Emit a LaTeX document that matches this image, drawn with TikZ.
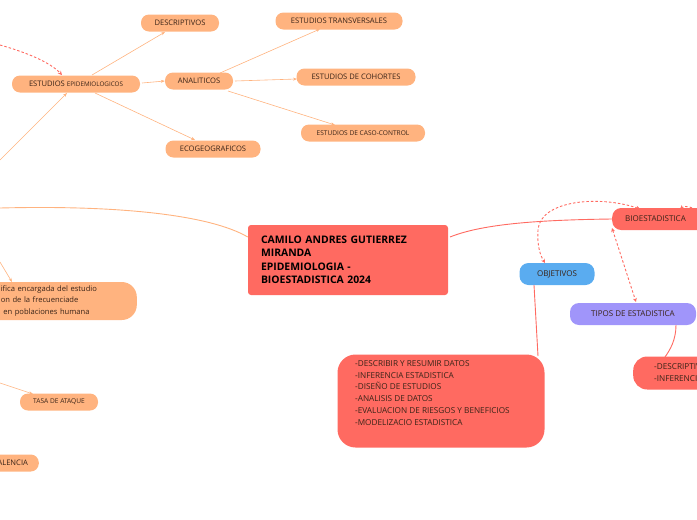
\documentclass[tikz,border=0pt]{standalone}
\usepackage{fontspec}
\setmainfont{Open Sans}
\usetikzlibrary{arrows.meta}
\definecolor{org}{HTML}{FFB37F}
\definecolor{rd}{HTML}{FF6A61}
\definecolor{bl}{HTML}{5AACF0}
\definecolor{pu}{HTML}{A095FA}
\definecolor{tx}{HTML}{3A2418}
\tikzset{
 onode/.style={fill=org,rounded corners=8pt,text=tx,font=\fontsize{7.6}{9}\selectfont,minimum height=17pt,inner xsep=4pt},
 oline/.style={draw=org,line width=0.6pt,-{Stealth[length=4pt,width=3pt]}},
 rline/.style={draw=rd,line width=0.9pt},
 dline/.style={draw=rd,dashed,line width=0.9pt,dash pattern=on 2.5pt off 2pt},
}
\begin{document}
\begin{tikzpicture}[x=1pt,y=-1pt]
\useasboundingbox (0,0) rectangle (697,520);
\clip (0,0) rectangle (697,520);
\node[onode,minimum width=78pt] (desc) at (180,23) {DESCRIPTIVOS};
\node[onode,minimum width=128pt] (epi) at (76,84) {ESTUDIOS {\fontsize{6.3}{7}\selectfont EPIDEMIOLOGICOS}};
\node[onode,minimum width=68pt] (ana) at (199,81) {ANALITICOS};
\node[onode,minimum width=95pt] (eco) at (213,149) {ECOGEOGRAFICOS};
\node[onode,minimum width=127pt] (tra) at (339,21) {ESTUDIOS TRANSVERSALES};
\node[onode,minimum width=119pt] (coh) at (356,77) {ESTUDIOS DE COHORTES};
\node[onode,minimum width=124pt,font=\fontsize{6.6}{8}\selectfont] (cas) at (363,133) {ESTUDIOS DE CASO-CONTROL};
\node[onode,minimum width=78pt,font=\fontsize{6.6}{8}\selectfont] (tasa) at (59,402) {TASA DE ATAQUE};
\node[onode,minimum width=70pt,anchor=east,align=right,text width=48pt,inner xsep=8pt] (prev) at (39,463) {PREVALENCIA};
\node[fill=org,rounded corners=15pt,text=tx,font=\fontsize{7.6}{11.5}\selectfont,minimum width=170pt,minimum height=38pt,anchor=east,align=left,text width=160pt] (def) at (137,301) {\hspace*{29pt}ifica encargada del estudio\\\hspace*{29pt}on de la frecuenciade\\\hspace*{29pt} en poblaciones humana};
\node[fill=rd,rounded corners=3pt,text=black,font=\bfseries\fontsize{10.4}{13.5}\selectfont,minimum width=200pt,minimum height=70pt,align=left,text width=174pt] (cen) at (348,260) {CAMILO ANDRES GUTIERREZ\\MIRANDA\\EPIDEMIOLOGIA -\\BIOESTADISTICA 2024};
\node[fill=rd,rounded corners=9pt,text=tx,font=\fontsize{8}{9}\selectfont,minimum width=110pt,minimum height=22pt,anchor=west,inner xsep=13pt,text width=84pt,align=left] (bio) at (612,219) {BIOESTADISTICA};
\node[fill=bl,rounded corners=9pt,text=tx,font=\fontsize{8}{9}\selectfont,minimum width=75pt,minimum height=22pt] (obj) at (557,274) {OBJETIVOS};
\node[fill=pu,rounded corners=9pt,text=tx,font=\fontsize{8}{9}\selectfont,minimum width=126pt,minimum height=22pt] (tip) at (633,314) {TIPOS DE ESTADISTICA};
\node[fill=rd,rounded corners=18pt,minimum width=207pt,minimum height=93pt] (lst) at (441,401) {};
\node[text=tx,font=\fontsize{8.2}{11.9}\selectfont,align=left,anchor=north west,inner sep=0pt] (lsttxt) at (355,360) {-DESCRIBIR Y RESUMIR DATOS\\-INFERENCIA ESTADISTICA\\-DISEÑO DE ESTUDIOS\\-ANALISIS DE DATOS\\-EVALUACION DE RIESGOS Y BENEFICIOS\\-MODELIZACIO ESTADISTICA};
\node[fill=rd,rounded corners=14pt,text=tx,font=\fontsize{8.2}{11.9}\selectfont,minimum width=100pt,minimum height=33pt,anchor=west,align=left,text width=70pt,inner xsep=21pt] (dsc) at (633,373) {-DESCRIPTIVA\\-INFERENCIAL};
\coordinate (l1) at (0,160);
\coordinate (l2) at (0,45);
\coordinate (l3) at (0,208);
\coordinate (l4) at (0,262);
\coordinate (l5) at (0,383);
\coordinate (r1) at (700,212);
\draw[oline] (92,75) -- (165,32);
\draw[oline] (142,83) -- (ana.west);
\draw[oline] (95,93) -- (195,140);
\draw[oline] (220,73) -- (320,29);
\draw[oline] (235,81) -- (297,79);
\draw[oline] (228,91) -- (335,125);
\draw[oline] (l1) -- (67,93);
\draw[oline] (l4) -- (12,282);
\draw[oline] (l5) -- (33,394);
\draw[draw=org,line width=0.9pt] (l3) .. controls (120,205) and (210,215) .. (cen.west|-0,237);
\draw[dline,-{Stealth[length=4pt,width=4pt]}] (l2) .. controls (25,52) and (50,62) .. (62,75);
\draw[rline] (450,237) .. controls (480,225) and (530,220) .. (bio.west);
\draw[rline] (534,285) -- (538,356);
\draw[rline] (676,325) .. controls (676,340) and (670,350) .. (665,357);
\draw[dline,{Stealth[length=4pt,width=4pt]}-{Stealth[length=4pt,width=4pt]}] (640,209) .. controls (600,195) and (540,200) .. (538,230) .. controls (537,245) and (540,255) .. (545,263);
\draw[dline,{Stealth[length=4pt,width=4pt]}-{Stealth[length=4pt,width=4pt]}] (612,228) -- (636,302);
\draw[dline,-{Stealth[length=4pt,width=4pt]}] (r1) .. controls (692,207) and (685,205) .. (680,209);
\end{tikzpicture}
\end{document}
